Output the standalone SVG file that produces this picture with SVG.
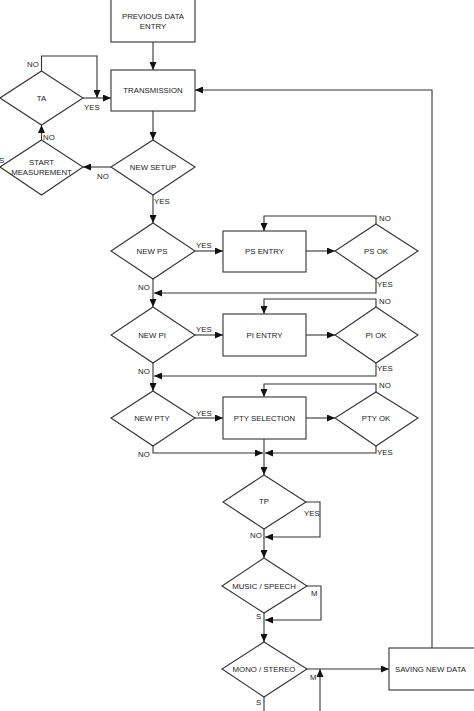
<svg xmlns="http://www.w3.org/2000/svg" width="474" height="711" viewBox="0 0 474 711">
<style>
.n{fill:#fff;stroke:#333;stroke-width:1.1}
.c{fill:none;stroke:#333;stroke-width:1.1}
.a{marker-end:url(#ah)}
text{font-family:"Liberation Sans",Arial,sans-serif;font-size:7.8px;fill:#222}
.m{text-anchor:middle}
</style>
<defs>
<marker id="ah" markerUnits="userSpaceOnUse" markerWidth="8" markerHeight="7" refX="8" refY="3.5" orient="auto">
<path d="M0,0 L8,3.5 L0,7 z" fill="#111"/>
</marker>
</defs>
<rect width="474" height="711" fill="#fff"/>
<g id="connectors">
<path class="c a" d="M153,42 V70"/>
<path class="c a" d="M153,111 V140"/>
<path class="c a" d="M111,167 H83"/>
<path class="c a" d="M41.5,140 V125"/>
<path class="c a" d="M41.5,71 V56 H97 V98"/>
<path class="c a" d="M83,98 H111"/>
<path class="c a" d="M432,648 V90 H195"/>
<path class="c a" d="M153,195 V223"/>
<path class="c a" d="M195,251 H223"/>
<path class="c a" d="M306,251 H335"/>
<path class="c a" d="M376,224 V216 H264 V231"/>
<path class="c a" d="M376,279 V293 H154"/>
<path class="c a" d="M153,279 V307"/>
<path class="c a" d="M195,335 H223"/>
<path class="c a" d="M306,335 H335"/>
<path class="c a" d="M376,307 V299 H264 V314"/>
<path class="c a" d="M376,363 V376 H154"/>
<path class="c a" d="M153,363 V391"/>
<path class="c a" d="M195,418 H223"/>
<path class="c a" d="M306,418 H335"/>
<path class="c a" d="M376,392 V384 H264 V397"/>
<path class="c a" d="M376,446 V453 H265"/>
<path class="c a" d="M153,446 V453 H263"/>
<path class="c a" d="M264,439 V475"/>
<path class="c a" d="M306,502 H320 V537 H265"/>
<path class="c a" d="M264,529 V558"/>
<path class="c a" d="M307,586 H321 V620 H265"/>
<path class="c a" d="M264,613 V642"/>
<path class="c a" d="M307,669 H389"/>
<path class="c a" d="M320,711 V669"/>
<path class="c" d="M264,697 V711"/>
</g>
<g id="labels">
<text x="27" y="67">NO</text>
<text x="84" y="110">YES</text>
<text x="43" y="140">NO</text>
<text x="97" y="179">NO</text>
<text x="-1" y="163">S</text>
<text x="154" y="204">YES</text>
<text x="196" y="248">YES</text>
<text x="138" y="290">NO</text>
<text x="379" y="221">NO</text>
<text x="377" y="287">YES</text>
<text x="196" y="332">YES</text>
<text x="138" y="374">NO</text>
<text x="379" y="304">NO</text>
<text x="377" y="371">YES</text>
<text x="196" y="416">YES</text>
<text x="138" y="457">NO</text>
<text x="379" y="388">NO</text>
<text x="377" y="455">YES</text>
<text x="304" y="516">YES</text>
<text x="250" y="538">NO</text>
<text x="311" y="596">M</text>
<text x="256" y="619">S</text>
<text x="310" y="680">M</text>
<text x="256" y="705">S</text>
</g>
<g id="previous-data-entry">
<rect class="n" x="111" y="-1" width="84" height="43"/>
<text class="m" x="153" y="19">PREVIOUS DATA</text>
<text class="m" x="153" y="29">ENTRY</text>
</g>
<g id="transmission">
<rect class="n" x="111" y="70" width="84" height="41"/>
<text class="m" x="153" y="93">TRANSMISSION</text>
</g>
<g id="ta">
<polygon class="n" points="41.5,71 83,98 41.5,125 0,98"/>
<text class="m" x="41.5" y="101">TA</text>
</g>
<g id="new-setup">
<polygon class="n" points="153,140 195,167 153,195 111,167"/>
<text class="m" x="153" y="170">NEW SETUP</text>
</g>
<g id="start-measurement">
<polygon class="n" points="41.5,140 83,167 41.5,195 0,167"/>
<text class="m" x="41.5" y="165">START</text>
<text class="m" x="41.5" y="175">MEASUREMENT</text>
</g>
<g id="new-ps">
<polygon class="n" points="153,223 195,251 153,279 111,251"/>
<text class="m" x="152" y="254">NEW PS</text>
</g>
<g id="ps-entry">
<rect class="n" x="223" y="231" width="83" height="41"/>
<text class="m" x="264.5" y="254">PS ENTRY</text>
</g>
<g id="ps-ok">
<polygon class="n" points="376,224 418,251 376,279 335,251"/>
<text class="m" x="376" y="254">PS OK</text>
</g>
<g id="new-pi">
<polygon class="n" points="153,307 195,335 153,363 111,335"/>
<text class="m" x="152" y="338">NEW PI</text>
</g>
<g id="pi-entry">
<rect class="n" x="223" y="314" width="83" height="42"/>
<text class="m" x="264.5" y="338">PI ENTRY</text>
</g>
<g id="pi-ok">
<polygon class="n" points="376,307 418,335 376,363 335,335"/>
<text class="m" x="376" y="338">PI OK</text>
</g>
<g id="new-pty">
<polygon class="n" points="153,391 195,418 153,446 111,418"/>
<text class="m" x="152" y="421">NEW PTY</text>
</g>
<g id="pty-selection">
<rect class="n" x="223" y="397" width="83" height="42"/>
<text class="m" x="264.5" y="421">PTY SELECTION</text>
</g>
<g id="pty-ok">
<polygon class="n" points="376,392 418,418 376,446 335,418"/>
<text class="m" x="376" y="421">PTY OK</text>
</g>
<g id="tp">
<polygon class="n" points="264,475 306,502 264,529 223,502"/>
<text class="m" x="264" y="504">TP</text>
</g>
<g id="music-speech">
<polygon class="n" points="264,558 307,586 264,613 222,586"/>
<text class="m" x="264" y="589">MUSIC / SPEECH</text>
</g>
<g id="mono-stereo">
<polygon class="n" points="264,642 307,669 264,697 222,669"/>
<text class="m" x="264" y="672">MONO / STEREO</text>
</g>
<g id="saving-new-data">
<rect class="n" x="389" y="648" width="86" height="42"/>
<text x="395" y="672">SAVING NEW DATA</text>
</g>
</svg>
